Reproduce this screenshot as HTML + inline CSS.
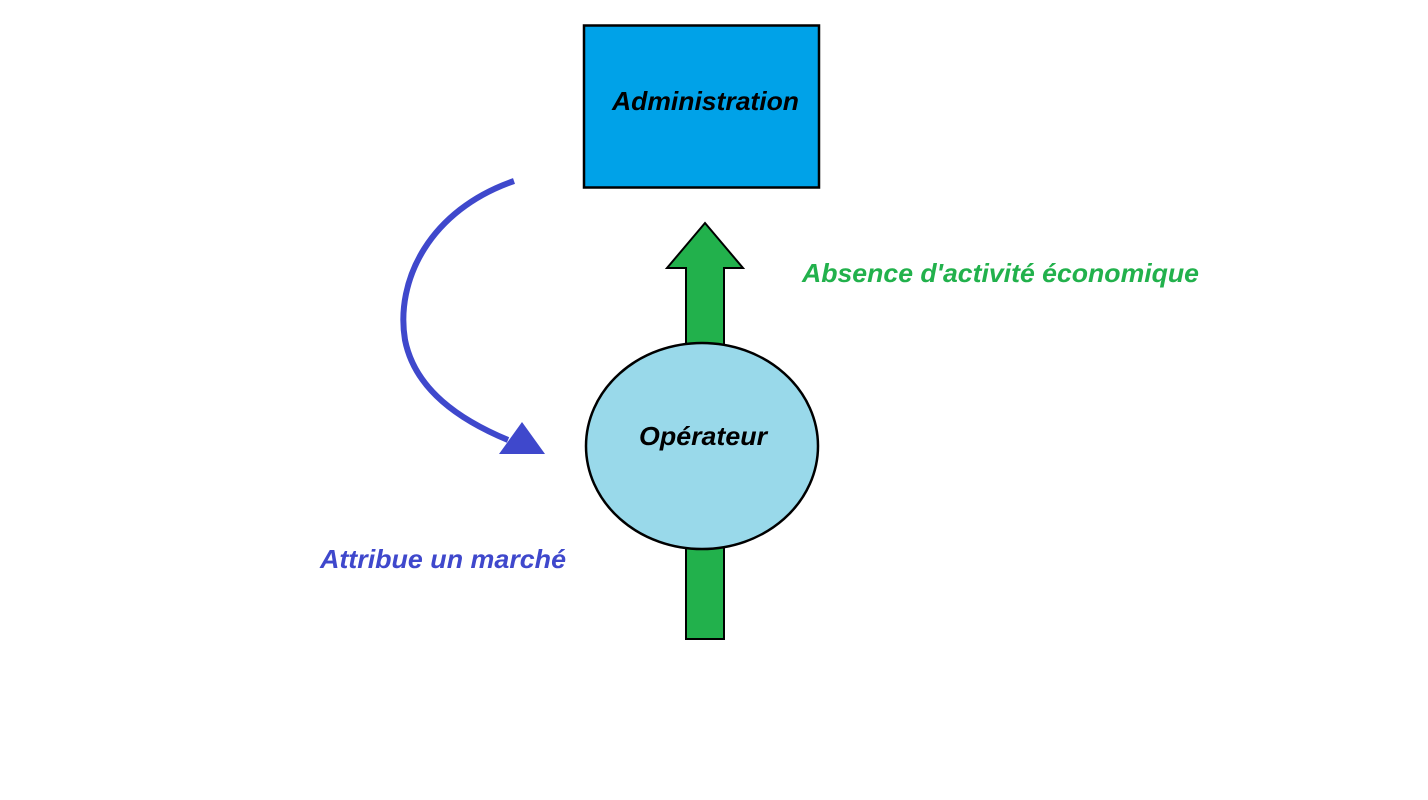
<!DOCTYPE html>
<html><head><meta charset="utf-8"><style>
html,body{margin:0;padding:0;background:#fff;}
svg{display:block;}
</style></head><body>
<svg width="1428" height="800" viewBox="0 0 1428 800" xmlns="http://www.w3.org/2000/svg">
<rect x="0" y="0" width="1428" height="800" fill="#fff"/>
<rect x="584" y="25.5" width="235" height="162" fill="#00a2e8" stroke="#000" stroke-width="2.5"/>
<g font-family="Liberation Sans, sans-serif" font-size="26" font-weight="bold" font-style="italic">
<text x="612" y="110" textLength="187" lengthAdjust="spacingAndGlyphs" fill="#000">Administration</text>
<polygon points="705,223 743,268 724,268 724,639 686,639 686,268 667,268" fill="#22b14c" stroke="#000" stroke-width="2"/>
<ellipse cx="702" cy="446" rx="116" ry="103" fill="#99d9ea" stroke="#000" stroke-width="2.5"/>
<text x="639" y="445" textLength="128" lengthAdjust="spacingAndGlyphs" fill="#000">Opérateur</text>
<path d="M514,181 C430,210 395,280 405,340 C415,390 460,420 508,440" fill="none" stroke="#3f48cc" stroke-width="6"/>
<polygon points="522,422 545,454 499,454" fill="#3f48cc"/>
<text x="802" y="282" textLength="397" lengthAdjust="spacingAndGlyphs" fill="#22b14c">Absence d'activité économique</text>
<text x="320" y="568" textLength="246" lengthAdjust="spacingAndGlyphs" fill="#3f48cc">Attribue un marché</text>
</g>
</svg>
</body></html>
